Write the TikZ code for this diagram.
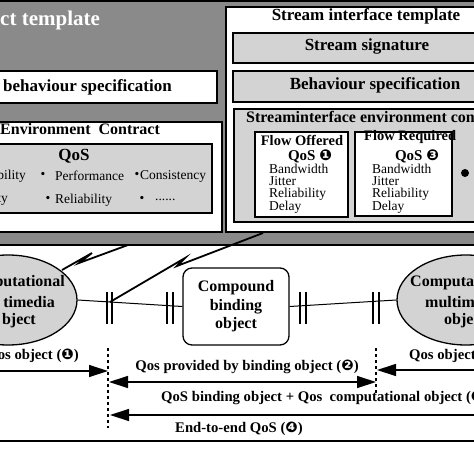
\documentclass[tikz,border=0pt]{standalone}
\usepackage{fontspec}
\setmainfont{Liberation Serif}
\newfontfamily\dv{DejaVu Sans}
\usetikzlibrary{arrows.meta,shapes.geometric}
\definecolor{darkgr}{HTML}{8A8A8A}
\definecolor{lightgr}{HTML}{D3D3D3}
\tikzset{
  box/.style={draw=black, line width=1.4pt},
  bt/.style={font=\fontsize{17}{18}\selectfont\bfseries, inner sep=0pt},
  rt/.style={font=\fontsize{13.5}{14}\selectfont, inner sep=0pt},
  lt/.style={font=\fontsize{13.5}{12}\selectfont, inner sep=0pt, align=left, anchor=north west},
  lab/.style={font=\fontsize{14.7}{15}\selectfont\bfseries, inner sep=0pt},
  et/.style={font=\fontsize{16}{17}\selectfont\bfseries, inner sep=0pt},
  bolt/.style={line width=1.8pt, line join=miter},
  tick/.style={line width=1.1pt},
  arr/.style={line width=1.3pt, -{Triangle[length=19pt,width=12pt]}},
  darr/.style={line width=1.3pt, {Triangle[length=19pt,width=12pt]}-{Triangle[length=19pt,width=12pt]}},
  dots/.style={line width=1.5pt, dash pattern=on 3pt off 3pt},
}
\begin{document}
\begin{tikzpicture}[x=1pt,y=-1pt]
\useasboundingbox (0,0) rectangle (474,474);
\clip (0,0) rectangle (474,474);
\fill[white] (0,0) rectangle (474,474);
% outer gray template
\draw[box, fill=darkgr] (-20,1) rectangle (494,245);
\node[white, inner sep=0pt, anchor=west, font=\fontsize{21}{22}\selectfont\bfseries] (tt) at (0,20) {ct template};
% left boxes
\draw[box, fill=white] (-20,71) rectangle (217,103);
\node[bt, anchor=west] (bs) at (3,87) {behaviour specification};
\draw[box, fill=white] (-20,122) rectangle (222,232);
\node[bt, anchor=west, font=\fontsize{16}{17}\selectfont\bfseries] (ec) at (0,129) {Environment\ \ Contract};
\draw[box, fill=lightgr] (-20,144) rectangle (212,213);
\node[bt] (qosl) at (74,156) {QoS};
\node[rt, anchor=east] (r1a) at (26,176) {bility};
\node[rt] (b1) at (43,175) {\textbullet};
\node[rt, anchor=west] (r1b) at (55,176) {Performance};
\node[rt] (b2) at (137,175) {\textbullet};
\node[rt, anchor=west] (r1c) at (140,176) {Consistency};
\node[rt, anchor=east] (r2a) at (8,200) {ty};
\node[rt] (b3) at (48,199) {\textbullet};
\node[rt, anchor=west] (r2b) at (55,200) {Reliability};
\node[rt] (b4) at (142,199) {\textbullet};
\node[rt, anchor=west] (r2c) at (155,200) {......};
% right panel
\draw[box, fill=white] (226,7) rectangle (494,232);
\node[bt] (sit) at (366,16) {Stream interface template};
\draw[box, fill=lightgr] (233,33) rectangle (494,63);
\node[bt] (ss) at (367,46) {Stream signature};
\draw[box, fill=lightgr] (233,71) rectangle (494,102);
\node[bt] (bsr) at (375,85) {Behaviour specification};
\draw[box, fill=lightgr] (234,109) rectangle (494,222);
\node[bt, anchor=west, font=\fontsize{16}{17}\selectfont\bfseries] (sec) at (246,117) {Streaminterface environment con};
\draw[box, fill=white] (255,132) rectangle (348,217);
\node[bt, font=\fontsize{14.5}{15}\selectfont\bfseries] (fo) at (302,140) {Flow Offered};
\node[bt, font=\fontsize{15}{15}\selectfont\bfseries] (q1) at (310,156) {QoS {\dv ❶}};
\node[lt] (l1) at (269,164) {Bandwidth\\Jitter\\Reliability\\Delay};
\draw[box, fill=white] (355,132) rectangle (452,216);
\node[bt, anchor=west, font=\fontsize{14.5}{15}\selectfont\bfseries] (fr) at (364,137) {Flow Required};
\node[bt, font=\fontsize{15}{15}\selectfont\bfseries] (q3) at (417,156) {QoS {\dv ❸}};
\node[lt] (l2) at (372,164) {Bandwidth\\Jitter\\Reliability\\Delay};
\fill (465,173) circle (4);
% bottom part
\node[draw, line width=1.3pt, fill=lightgr, ellipse, minimum width=138pt, minimum height=90pt] (le) at (8,300) {};
\node[draw, line width=1.3pt, fill=lightgr, ellipse, minimum width=138pt, minimum height=90pt] (re) at (466,300) {};
\node[et, anchor=east] (le1) at (65,283) {putational};
\node[et, anchor=east] (le2) at (55,302) {timedia};
\node[et, anchor=east] (le3) at (36,321) {bject};
\node[et, anchor=west] (re1) at (410,283) {Computa};
\node[et, anchor=west] (re2) at (425,302) {multim};
\node[et, anchor=west] (re3) at (444,321) {obje};
\node[draw, line width=1.3pt, rounded corners=9pt, fill=white, minimum width=106pt, minimum height=77pt,
      font=\fontsize{16}{18.5}\selectfont\bfseries, align=center] (bo) at (236,306.5) {Compound\\binding\\object};
\draw[line width=1pt] (le.east) -- (bo.west);
\draw[line width=1pt] (bo.east) -- (re.west);
% ticks
\foreach \x in {107,112,167,173,300,306,373,379}{\draw[tick] (\x,292) -- (\x,324);}
% lightning bolts
\coordinate (z1) at (128,245);
\coordinate (z1e) at (62,270);
\coordinate (z2) at (110,302);
\coordinate (z3) at (263,233);
\draw[bolt] (z1) -- (79,263) -- (92,253) -- (z1e);
\draw[bolt] (z3) -- (177,266) -- (185,258) -- (z2);
% QoS labels and arrows
\coordinate (dl1) at (108,348); \coordinate (dl2) at (108,428);
\coordinate (dr1) at (376,348); \coordinate (dr2) at (376,396);
\draw[dots] (dl1) -- (dl2);
\draw[dots] (dr1) -- (dr2);
\node[lab, anchor=east] (t1) at (79,356) {os object ({\dv ❶})};
\coordinate (a1s) at (-5,371); \coordinate (a1e) at (108,371);
\draw[arr] (a1s) -- (a1e);
\node[lab] (t2) at (247,367) {Qos provided by binding object ({\dv ❷})};
\coordinate (a2s) at (109,382); \coordinate (a2e) at (376,382);
\draw[darr] (a2s) -- (a2e);
\node[lab, anchor=west] (t3) at (409,356) {Qos object};
\coordinate (a3s) at (480,370); \coordinate (a3e) at (377,370);
\draw[arr] (a3s) -- (a3e);
\node[lab, anchor=west] (t4) at (161,398) {QoS binding object + Qos\ \ computational object ({\dv ❸})};
\coordinate (a4s) at (480,415); \coordinate (a4e) at (110,415);
\draw[arr] (a4s) -- (a4e);
\node[lab] (t5) at (239,429) {End-to-end QoS ({\dv ❹})};
\draw[line width=2pt] (-5,440.5) -- (480,440.5);
\end{tikzpicture}
\end{document}
